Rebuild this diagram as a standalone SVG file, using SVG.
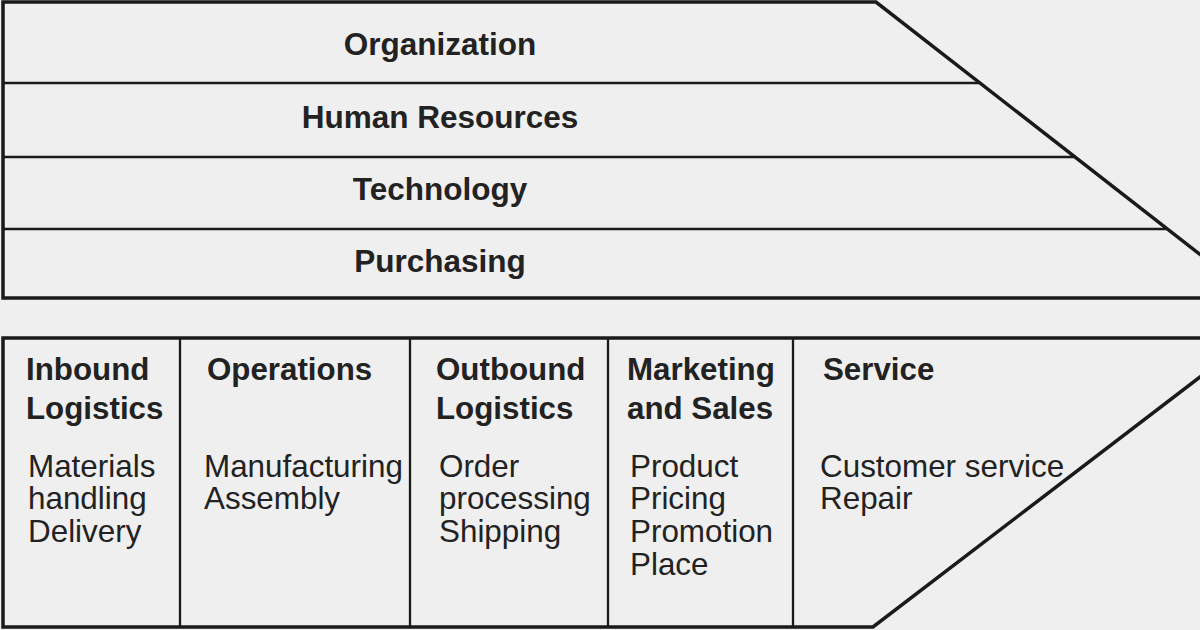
<svg xmlns="http://www.w3.org/2000/svg" width="1200" height="630" viewBox="0 0 1200 630">
<style>
.outer{fill:none;stroke:#1a1a1a;stroke-width:3.5;stroke-linejoin:miter}
.inner{stroke:#1a1a1a;stroke-width:2.3}
.h{font-family:"Liberation Sans",Arial,sans-serif;font-weight:bold;font-size:31.5px;fill:#222}
.hb{font-family:"Liberation Sans",Arial,sans-serif;font-weight:bold;font-size:31.3px;fill:#222}
.r{font-family:"Liberation Sans",Arial,sans-serif;font-size:31.4px;fill:#222}
</style>
<rect width="1200" height="630" fill="#efefef"/>
<g id="support">
<path class="outer" d="M3,2 L876,2 L1256,298 L3,298 Z"/>
<line class="inner" x1="3" y1="83" x2="979" y2="83"/>
<line class="inner" x1="3" y1="157" x2="1074" y2="157"/>
<line class="inner" x1="3" y1="229" x2="1166" y2="229"/>
</g>
<g id="organization"><text class="h" x="440" y="55" text-anchor="middle">Organization</text></g>
<g id="human-resources"><text class="h" x="440" y="128" text-anchor="middle">Human Resources</text></g>
<g id="technology"><text class="h" x="440" y="200" text-anchor="middle">Technology</text></g>
<g id="purchasing"><text class="h" x="440" y="272" text-anchor="middle">Purchasing</text></g>
<g id="primary">
<path class="outer" d="M3,338 L1251,338 L873,627 L3,627 Z"/>
</g>
<g id="connectors">
<line class="inner" x1="180" y1="338" x2="180" y2="627"/>
<line class="inner" x1="410" y1="338" x2="410" y2="627"/>
<line class="inner" x1="608" y1="338" x2="608" y2="627"/>
<line class="inner" x1="793" y1="338" x2="793" y2="627"/>
</g>
<g id="inbound">
<text class="hb" x="26" y="380">Inbound</text>
<text class="hb" x="26" y="419">Logistics</text>
<text class="r" x="28" y="477">Materials</text>
<text class="r" x="28" y="509">handling</text>
<text class="r" x="28" y="542">Delivery</text>
</g>
<g id="operations">
<text class="hb" x="207" y="380">Operations</text>
<text class="r" x="204" y="477">Manufacturing</text>
<text class="r" x="204" y="509">Assembly</text>
</g>
<g id="outbound">
<text class="hb" x="436" y="380">Outbound</text>
<text class="hb" x="436" y="419">Logistics</text>
<text class="r" x="439" y="477">Order</text>
<text class="r" x="439" y="509">processing</text>
<text class="r" x="439" y="542">Shipping</text>
</g>
<g id="marketing">
<text class="hb" x="627" y="380">Marketing</text>
<text class="hb" x="627" y="419">and Sales</text>
<text class="r" x="630" y="477">Product</text>
<text class="r" x="630" y="509">Pricing</text>
<text class="r" x="630" y="542">Promotion</text>
<text class="r" x="630" y="575">Place</text>
</g>
<g id="service">
<text class="hb" x="823" y="380">Service</text>
<text class="r" x="820" y="477">Customer service</text>
<text class="r" x="820" y="509">Repair</text>
</g>
</svg>
